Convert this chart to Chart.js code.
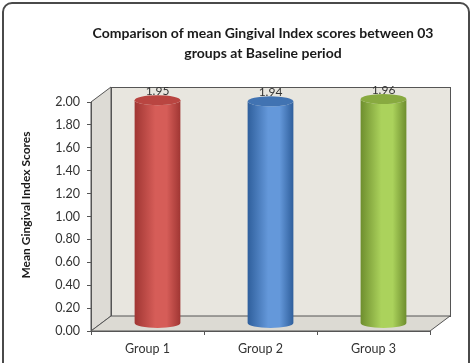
<!DOCTYPE html>
<html>
<head>
<meta charset="utf-8">
<script src="https://cdn.jsdelivr.net/npm/chart.js@4/dist/chart.umd.min.js"></script>
<style>
  html, body { margin: 0; padding: 0; background: #fff; }
  #wrap { width: 474px; height: 363px; }
</style>
</head>
<body>
<div id="wrap"><canvas id="chart" width="474" height="363"></canvas></div>
<script>
// data
const groups = ['Group 1', 'Group 2', 'Group 3'];
const meanScores = [1.95, 1.94, 1.96];
const scoreLabels = ['1.95', '1.94', '1.96'];
const titleLines = ['Comparison of mean Gingival Index scores between 03', 'groups at Baseline period'];
const yTitle = 'Mean Gingival Index Scores';

// cylinder shading per bar: [edge, light, cap]
const barShades = [
  ['#a03633', '#d65d58', '#b94541'],
  ['#2f5f9c', '#6498da', '#4173b2'],
  ['#6e8e2e', '#abd25c', '#88aa40']
];

const depthX = 20, depthY = -15;
const font = 'Lato, "Open Sans", sans-serif';

const threeD = {
  id: 'threeD',
  beforeDraw(chart) {
    const ctx = chart.ctx;
    ctx.save();
    ctx.fillStyle = '#fff';
    ctx.fillRect(0, 0, chart.width, chart.height);
    ctx.strokeStyle = '#4a4a4a';
    ctx.lineWidth = 2;
    ctx.beginPath();
    ctx.roundRect(3, 3, 466, 400, 9);
    ctx.stroke();
    // titles
    ctx.fillStyle = '#1a1a1a';
    ctx.textAlign = 'center';
    ctx.textBaseline = 'middle';
    ctx.font = 'bold 14px ' + font;
    ctx.fillText(titleLines[0], 263, 33);
    ctx.fillText(titleLines[1], 263, 53);
    ctx.translate(26, 205);
    ctx.rotate(-Math.PI / 2);
    ctx.font = 'bold 12px ' + font;
    ctx.fillText(yTitle, 0, 0);
    ctx.restore();
  },
  beforeDatasetsDraw(chart) {
    const { ctx, chartArea: a } = chart;
    ctx.save();
    ctx.lineWidth = 1;
    ctx.strokeStyle = '#555';
    // side wall
    ctx.fillStyle = '#dddbd5';
    ctx.beginPath();
    ctx.moveTo(a.left, a.top);
    ctx.lineTo(a.left + depthX, a.top + depthY);
    ctx.lineTo(a.left + depthX, a.bottom + depthY);
    ctx.lineTo(a.left, a.bottom);
    ctx.closePath();
    ctx.fill();
    ctx.stroke();
    // back wall
    ctx.fillStyle = '#e8e6df';
    ctx.fillRect(a.left + depthX, a.top + depthY, a.right - a.left, a.bottom - a.top);
    ctx.strokeRect(a.left + depthX + 0.5, a.top + depthY + 0.5, a.right - a.left, a.bottom - a.top);
    // floor
    ctx.fillStyle = '#dcdad3';
    ctx.beginPath();
    ctx.moveTo(a.left, a.bottom);
    ctx.lineTo(a.right, a.bottom);
    ctx.lineTo(a.right + depthX, a.bottom + depthY);
    ctx.lineTo(a.left + depthX, a.bottom + depthY);
    ctx.closePath();
    ctx.fill();
    ctx.stroke();
    ctx.restore();
  },
  afterDatasetsDraw(chart) {
    const ctx = chart.ctx;
    const meta = chart.getDatasetMeta(0);
    ctx.save();
    meta.data.forEach((el, i) => {
      const shade = barShades[i];
      const x = el.x + depthX / 2;
      const top = el.y + depthY / 2;
      const bottom = el.base + depthY / 2;
      const rx = el.width / 2, ry = 5;
      const g = ctx.createLinearGradient(x - rx, 0, x + rx, 0);
      g.addColorStop(0, shade[0]);
      g.addColorStop(0.45, shade[1]);
      g.addColorStop(0.7, shade[1]);
      g.addColorStop(1, shade[0]);
      ctx.fillStyle = g;
      ctx.beginPath();
      ctx.moveTo(x - rx, top);
      ctx.lineTo(x - rx, bottom);
      ctx.ellipse(x, bottom, rx, ry, 0, Math.PI, 0, true);
      ctx.lineTo(x + rx, top);
      ctx.ellipse(x, top, rx, ry, 0, 0, Math.PI, false);
      ctx.closePath();
      ctx.fill();
      ctx.fillStyle = shade[2];
      ctx.beginPath();
      ctx.ellipse(x, top, rx, ry, 0, 0, Math.PI * 2);
      ctx.fill();
      ctx.fillStyle = '#333';
      ctx.font = '12px ' + font;
      ctx.textAlign = 'center';
      ctx.textBaseline = 'middle';
      ctx.fillText(scoreLabels[i], x, top - ry - 4);
    });
    ctx.restore();
  },
  afterDraw(chart) {
    const { ctx, chartArea: a } = chart;
    ctx.save();
    ctx.strokeStyle = '#555';
    ctx.lineWidth = 1;
    ctx.beginPath();
    ctx.moveTo(a.left + 0.5, a.top);
    ctx.lineTo(a.left + 0.5, a.bottom + 0.5);
    ctx.lineTo(a.right, a.bottom + 0.5);
    ctx.stroke();
    ctx.restore();
  }
};

new Chart(document.getElementById('chart'), {
  type: 'bar',
  data: {
    labels: groups,
    datasets: [{
      data: meanScores,
      backgroundColor: 'rgba(0,0,0,0)',
      barPercentage: 0.45,
      categoryPercentage: 0.9
    }]
  },
  options: {
    responsive: false,
    animation: false,
    layout: { padding: { left: 4, right: 44, top: 102, bottom: 0 } },
    plugins: {
      legend: { display: false },
      tooltip: { enabled: false },
      title: { display: false }
    },
    scales: {
      y: {
        min: 0,
        max: 2,
        ticks: {
          stepSize: 0.2,
          color: '#333',
          font: { family: font, size: 12.5 },
          padding: 7,
          callback: v => v.toFixed(2)
        },
        grid: { drawOnChartArea: false, tickLength: 4, color: '#555' },
        border: { display: false },
        afterFit(scale) { scale.width = 87; }
      },
      x: {
        ticks: { color: '#333', font: { family: font, size: 12.5 }, padding: 6 },
        grid: { drawOnChartArea: false, tickLength: 4, color: '#555', offset: true },
        border: { display: false },
        afterFit(scale) { scale.height = 32; }
      }
    }
  },
  plugins: [threeD]
});
</script>
</body>
</html>
